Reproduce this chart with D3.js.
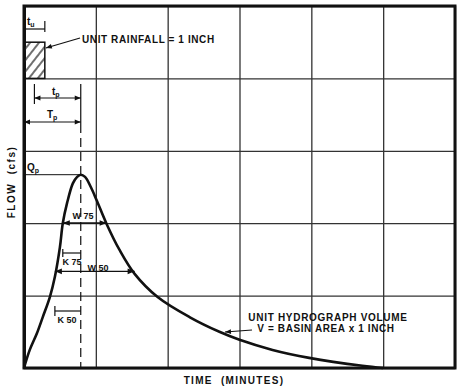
<!DOCTYPE html>
<html>
<head>
<meta charset="utf-8">
<style>
  body { margin: 0; background: #fff; }
  text { font-family: "Liberation Sans", Arial, sans-serif; font-weight: bold; fill: #111; white-space: pre; }
</style>
</head>
<body>
<svg id="svg" width="474" height="390"></svg>
<script src="https://d3js.org/d3.v7.min.js"></script>
<script>
    // hydrograph (time in grid units, flow in grid units)
    const time = [0, 0.08, 0.18, 0.26, 0.36, 0.43, 0.5, 0.54, 0.6, 0.68, 0.74, 0.79, 0.85, 0.93, 1.01, 1.15, 1.33, 1.54, 1.86, 2.31, 2.72, 3.0, 3.46, 3.97, 4.71, 5.0];
    const flow = [0, 0.25, 0.48, 0.7, 0.98, 1.26, 1.67, 2.0, 2.28, 2.55, 2.64, 2.67, 2.64, 2.5, 2.32, 1.99, 1.63, 1.3, 0.98, 0.7, 0.5, 0.39, 0.25, 0.14, 0.03, 0];
    const gridX = [0, 1, 2, 3, 4, 5, 6];
    const gridY = [0, 1, 2, 3, 4, 5];
    const peakTime = 0.79, peakFlow = 2.67;
    const rainDuration = 0.29, rainTop = 4.5, rainBottom = 4;
    const w75 = [0.54, 1.15];
    const w50 = [0.43, 1.54];

    const svg = d3.select('#svg');
    const x = d3.scaleLinear([0, 6], [24, 455]);
    const y = d3.scaleLinear([0, 5], [368, 6]);

    const defs = svg.append("defs");
    defs.append("pattern")
        .attr("id", "hatch").attr("patternUnits", "userSpaceOnUse")
        .attr("width", 7).attr("height", 7)
        .attr("patternTransform", "rotate(38)")
        .append("line").attr("x1", 1).attr("y1", 0).attr("x2", 1).attr("y2", 7)
        .attr("stroke", "#222").attr("stroke-width", 1.3);
    defs.append("marker").attr("id", "arrow")
        .attr("viewBox", "0 0 10 10").attr("refX", 10).attr("refY", 5)
        .attr("markerWidth", 7).attr("markerHeight", 5).attr("orient", "auto-start-reverse")
        .append("path").attr("d", "M0,1 L10,5 L0,9 Z").attr("fill", "#111");

    // grid
    svg.append("g").attr("transform", "translate(0,368)")
        .call(d3.axisBottom(x).tickValues(gridX).tickSize(-362).tickFormat(""))
        .call(g => g.select(".domain").remove())
        .selectAll("line").attr("stroke", "#333").attr("stroke-width", 1.3);
    svg.append("g").attr("transform", "translate(24,0)")
        .call(d3.axisLeft(y).tickValues(gridY).tickSize(-431).tickFormat(""))
        .call(g => g.select(".domain").remove())
        .selectAll("line").attr("stroke", "#333").attr("stroke-width", 1.3);

    // frame
    svg.append("rect").attr("x", x(0)).attr("y", y(5)).attr("width", x(6) - x(0)).attr("height", y(0) - y(5))
        .attr("fill", "none").attr("stroke", "#111").attr("stroke-width", 3);
    svg.append("line").attr("x1", x(0) + 1).attr("x2", x(0) + 1).attr("y1", y(5)).attr("y2", y(0))
        .attr("stroke", "#111").attr("stroke-width", 2);

    // rainfall block
    svg.append("rect").attr("x", x(0)).attr("y", y(rainTop))
        .attr("width", x(rainDuration) - x(0)).attr("height", y(rainBottom) - y(rainTop))
        .attr("fill", "url(#hatch)").attr("stroke", "#111").attr("stroke-width", 1.5);

    function line(x1, y1, x2, y2, opts) {
        const l = svg.append("line").attr("x1", x1).attr("y1", y1).attr("x2", x2).attr("y2", y2)
            .attr("stroke", "#111").attr("stroke-width", (opts && opts.w) || 1.2);
        if (opts && opts.start) l.attr("marker-start", "url(#arrow)");
        if (opts && opts.end) l.attr("marker-end", "url(#arrow)");
        if (opts && opts.dash) l.attr("stroke-dasharray", opts.dash);
        return l;
    }
    function label(tx, ty, str, size, anchor) {
        return svg.append("text").attr("x", tx).attr("y", ty).attr("font-size", size || 9)
            .attr("text-anchor", anchor || "middle").text(str);
    }
    function sub(tx, ty, main, s, size) {
        svg.append("text").attr("x", tx).attr("y", ty).attr("font-size", size || 10).text(main)
            .append("tspan").attr("font-size", 7).attr("dy", 1.5).text(s);
    }

    // tu
    const rainMid = x(rainDuration / 2);
    line(x(0), 29, x(rainDuration), 29);
    line(x(rainDuration), 21, x(rainDuration), 32);
    sub(27, 25, "t", "u");
    line(80, 38, x(rainDuration) + 1, 48, {end: true});
    label(82, 43, "UNIT RAINFALL = 1 INCH", 10, "start").attr("letter-spacing", 0.6);

    // tp and Tp
    const xp = x(peakTime);
    line(rainMid, 84, rainMid, 104);
    line(xp, 84, xp, 124);
    line(rainMid, 98, xp, 98, {start: true, end: true});
    sub(52, 95, "t", "p");
    line(x(0), 122, xp, 122, {start: true, end: true});
    sub(47, 118, "T", "p");

    // peak line and dashed time-to-peak
    line(x(0), y(peakFlow), xp + 2, y(peakFlow), {w: 1});
    sub(27, 171, "Q", "p");
    line(xp, 124, xp, 368, {dash: "9,5", w: 1.2});

    // W75 / K75
    const y75 = y(0.75 * peakFlow);
    line(x(w75[0]), y75, x(w75[1]), y75, {start: true, end: true, w: 1.4});
    label(83, 219, "W 75", 9);
    line(x(w75[0]), 253, xp, 253);
    line(x(w75[0]), 249, x(w75[0]), 257);
    label(72, 265, "K 75", 9);

    // W50 / K50
    const y50 = y(0.5 * peakFlow);
    line(x(w50[0]), y50, x(w50[1]), y50, {start: true, end: true, w: 1.4});
    label(98, 271, "W 50", 9);
    line(x(w50[0]), 311, xp, 311);
    line(x(w50[0]), 306, x(w50[0]), 316);
    label(67, 323, "K 50", 9);

    // hydrograph
    svg.append("path").datum(time.map((t, i) => [t, flow[i]]))
        .attr("fill", "none").attr("stroke", "#111").attr("stroke-width", 2.6)
        .attr("d", d3.line().x(d => x(d[0])).y(d => y(d[1])).curve(d3.curveCatmullRom.alpha(0.5)));

    // volume note
    line(252, 330, 225, 332, {end: true});
    label(328, 321, "UNIT HYDROGRAPH VOLUME", 10).attr("letter-spacing", 0.7);
    label(326, 332, "V = BASIN AREA x 1 INCH", 10).attr("letter-spacing", 0.6);

    // axis titles
    label(234, 384, "TIME  (MINUTES)", 10).attr("letter-spacing", 1.3);
    label(0, 0, "FLOW  (cfs)", 10).attr("letter-spacing", 1.5)
        .attr("transform", "translate(15,182) rotate(-90)");
</script>
</body>
</html>
